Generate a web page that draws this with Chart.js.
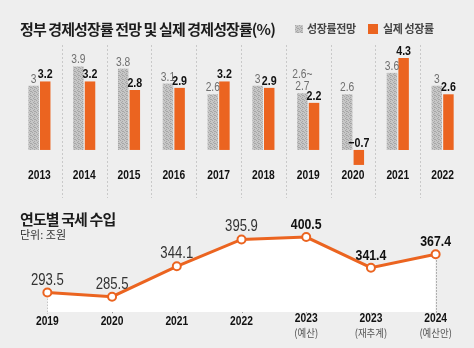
<!DOCTYPE html>
<html>
<head>
<meta charset="utf-8">
<script src="https://cdn.jsdelivr.net/npm/chart.js@4.4.1/dist/chart.umd.min.js"></script>
<style>
  html, body { margin: 0; padding: 0; background: #eeeeee; }
  #wrap { position: relative; width: 474px; height: 348px; overflow: hidden; font-family: 'Noto Sans CJK KR', sans-serif; }
  .box { position: absolute; left: 0; width: 474px; }
  .txt { position: absolute; white-space: nowrap; line-height: 1; z-index: 2; }
  .title { font-size: 15px; font-weight: 700; color: #1c1c1c; letter-spacing: -0.9px; }
  .legend { font-size: 11px; font-weight: 700; color: #444; letter-spacing: -0.4px; }
  .sw { position: absolute; z-index: 2; }
</style>
</head>
<body>
<div id="wrap">
  <div class="box" style="top:0;height:200px"><canvas id="growth" width="474" height="200"></canvas></div>
  <div class="box" style="top:195px;height:153px"><canvas id="revenue" width="474" height="153"></canvas></div>

  <div class="txt title" style="left:20px;top:21px">정부 경제성장률 전망 및 실제 경제성장률(%)</div>
  <div class="sw" id="swGray" style="left:295px;top:25px;width:8px;height:8px"></div>
  <div class="txt legend" style="left:307px;top:23px">성장률전망</div>
  <div class="sw" style="left:368px;top:24px;width:10px;height:10px;background:#eb6420"></div>
  <div class="txt legend" style="left:383px;top:23px">실제 성장률</div>

  <div class="txt title" style="left:20px;top:211px">연도별 국세 수입</div>
  <div class="txt" style="left:20px;top:229px;font-size:11px;color:#333">단위: 조원</div>
</div>

<script>
// growth rate: government forecast vs actual (%)
const years = ['2013', '2014', '2015', '2016', '2017', '2018', '2019', '2020', '2021', '2022'];
const forecast = [3, 3.9, 3.8, 3.1, 2.6, 3, 2.65, 2.6, 3.6, 3];
const forecastText = ['3', '3.9', '3.8', '3.1', '2.6', '3', ['2.6~', '2.7'], '2.6', '3.6', '3'];
const actual = [3.2, 3.2, 2.8, 2.9, 3.2, 2.9, 2.2, -0.7, 4.3, 2.6];

// national tax revenue (trillion won)
const revenueYears = ['2019', '2020', '2021', '2022', '2023', '2023', '2024'];
const revenueNotes = ['', '', '', '', '(예산)', '(재추계)', '(예산안)'];
const revenue = [293.5, 285.5, 344.1, 395.9, 400.5, 341.4, 367.4];

const ORANGE = '#eb6420';
const SANS = "'Liberation Sans', Arial, sans-serif";

// condensed text: squeeze horizontally around the anchor point
function narrowText(ctx, text, x, y, squeeze = 0.82) {
  ctx.save();
  ctx.translate(x, y);
  ctx.scale(squeeze, 1);
  ctx.fillText(text, 0, 0);
  ctx.restore();
}

// speckled grey texture for the forecast bars
function makeTexture() {
  const c = document.createElement('canvas');
  c.width = 4; c.height = 4;
  const g = c.getContext('2d');
  g.fillStyle = '#c6c6c6';
  g.fillRect(0, 0, 4, 4);
  g.fillStyle = '#a6a6a6';
  [[0, 0], [2, 1], [1, 2], [3, 3], [2, 3]].forEach(([x, y]) => g.fillRect(x, y, 1, 1));
  return c;
}
const texture = makeTexture();
document.getElementById('swGray').style.background = 'url(' + texture.toDataURL() + ')';

const separators = {
  id: 'separators',
  beforeDatasetsDraw(chart) {
    const xs = chart.scales.x;
    const ctx = chart.ctx;
    ctx.save();
    ctx.strokeStyle = '#c9c9c9';
    ctx.lineWidth = 1;
    ctx.setLineDash([2, 2]);
    for (let i = 1; i < years.length; i++) {
      const x = Math.round((xs.getPixelForValue(i - 1) + xs.getPixelForValue(i)) / 2) + 0.5;
      ctx.beginPath();
      ctx.moveTo(x, 45);
      ctx.lineTo(x, 198);
      ctx.stroke();
    }
    ctx.restore();
  }
};

const barValues = {
  id: 'barValues',
  afterDatasetsDraw(chart) {
    const ctx = chart.ctx;
    ctx.save();
    ctx.textAlign = 'center';
    ctx.textBaseline = 'alphabetic';
    chart.getDatasetMeta(0).data.forEach((bar, i) => {
      const lines = [].concat(forecastText[i]);
      ctx.font = '12.5px ' + SANS;
      ctx.fillStyle = '#6f6f6f';
      lines.forEach((t, k) => {
        narrowText(ctx, t, bar.x, Math.min(bar.y, bar.base) - 3 - (lines.length - 1 - k) * 12);
      });
    });
    chart.getDatasetMeta(1).data.forEach((bar, i) => {
      const v = actual[i];
      const t = v < 0 ? '\u2212' + Math.abs(v).toFixed(1) : v.toFixed(1);
      ctx.font = 'bold 13px ' + SANS;
      ctx.fillStyle = '#111';
      narrowText(ctx, t, bar.x, Math.min(bar.y, bar.base) - 3);
    });
    // year labels under each group
    const xs = chart.scales.x;
    ctx.textBaseline = 'middle';
    ctx.font = 'bold 12.5px ' + SANS;
    ctx.fillStyle = '#111';
    years.forEach((y, i) => {
      narrowText(ctx, y, xs.getPixelForValue(i), chart.chartArea.bottom + 10);
    });
    ctx.restore();
  }
};

new Chart(document.getElementById('growth'), {
  type: 'bar',
  data: {
    labels: years,
    datasets: [
      { label: '성장률전망', data: forecast, backgroundColor: '#b8b8b8' },
      { label: '실제 성장률', data: actual, backgroundColor: ORANGE }
    ]
  },
  options: {
    responsive: false,
    animation: false,
    layout: { padding: { top: 44, left: 17, right: 9, bottom: 0 } },
    datasets: { bar: { categoryPercentage: 0.52, barPercentage: 0.9 } },
    plugins: { legend: { display: false }, tooltip: { enabled: false } },
    scales: {
      x: {
        grid: { display: false },
        border: { display: false },
        ticks: { display: false },
        afterFit: (scale) => { scale.height = 34; }
      },
      y: { display: false, min: -0.75, max: 4.95 }
    }
  },
  plugins: [separators, barValues]
});
// pattern needs the chart's context, so set it afterwards
const growthChart = Chart.getChart('growth');
growthChart.data.datasets[0].backgroundColor = growthChart.ctx.createPattern(texture, 'repeat');
growthChart.update();

const dropLines = {
  id: 'dropLines',
  beforeDatasetsDraw(chart) {
    const ctx = chart.ctx;
    const bottom = chart.chartArea.bottom;
    ctx.save();
    ctx.strokeStyle = '#9a9a9a';
    ctx.lineWidth = 1;
    ctx.setLineDash([1.5, 1.5]);
    chart.getDatasetMeta(0).data.forEach((pt) => {
      const x = Math.round(pt.x) + 0.5;
      ctx.beginPath();
      ctx.moveTo(x, pt.y);
      ctx.lineTo(x, bottom + 2);
      ctx.stroke();
    });
    ctx.restore();
  }
};

const pointValues = {
  id: 'pointValues',
  afterDatasetsDraw(chart) {
    const ctx = chart.ctx;
    ctx.save();
    ctx.textAlign = 'center';
    ctx.textBaseline = 'alphabetic';
    chart.getDatasetMeta(0).data.forEach((pt, i) => {
      const strong = revenueNotes[i] !== '';
      ctx.font = strong ? 'bold 15px ' + SANS : '16px ' + SANS;
      ctx.fillStyle = strong ? '#111' : '#333';
      narrowText(ctx, revenue[i].toFixed(1), pt.x, pt.y - 8);
    });
    ctx.restore();
  }
};

const yearLabels = {
  id: 'yearLabels',
  afterDraw(chart) {
    const ctx = chart.ctx;
    const xs = chart.scales.x;
    const top = chart.chartArea.bottom;
    ctx.save();
    ctx.textAlign = 'center';
    ctx.textBaseline = 'middle';
    revenueYears.forEach((y, i) => {
      const x = xs.getPixelForValue(i);
      const note = revenueNotes[i];
      ctx.font = 'bold 12.5px ' + SANS;
      ctx.fillStyle = '#111';
      narrowText(ctx, y, x, top + (note ? 7 : 10));
      if (note) {
        ctx.font = "10.5px 'Noto Sans CJK KR', sans-serif";
        ctx.fillStyle = '#555';
        narrowText(ctx, note, x, top + 21, 0.9);
      }
    });
    ctx.restore();
  }
};

new Chart(document.getElementById('revenue'), {
  type: 'line',
  data: {
    labels: revenueYears,
    datasets: [{
      data: revenue,
      borderColor: ORANGE,
      borderWidth: 3,
      backgroundColor: '#ffffff',
      fill: 'start',
      tension: 0,
      pointRadius: 4,
      pointBorderWidth: 2,
      pointBackgroundColor: '#ffffff',
      pointBorderColor: ORANGE,
      clip: false
    }]
  },
  options: {
    responsive: false,
    animation: false,
    layout: { padding: { top: 0, left: 15, right: 6, bottom: 0 } },
    plugins: { legend: { display: false }, tooltip: { enabled: false } },
    scales: {
      x: {
        offset: true,
        grid: { display: false },
        border: { display: false },
        ticks: { display: false },
        afterFit: (scale) => { scale.height = 36; }
      },
      y: { display: false, min: 256, max: 470 }
    }
  },
  plugins: [dropLines, pointValues, yearLabels]
});
</script>
</body>
</html>
